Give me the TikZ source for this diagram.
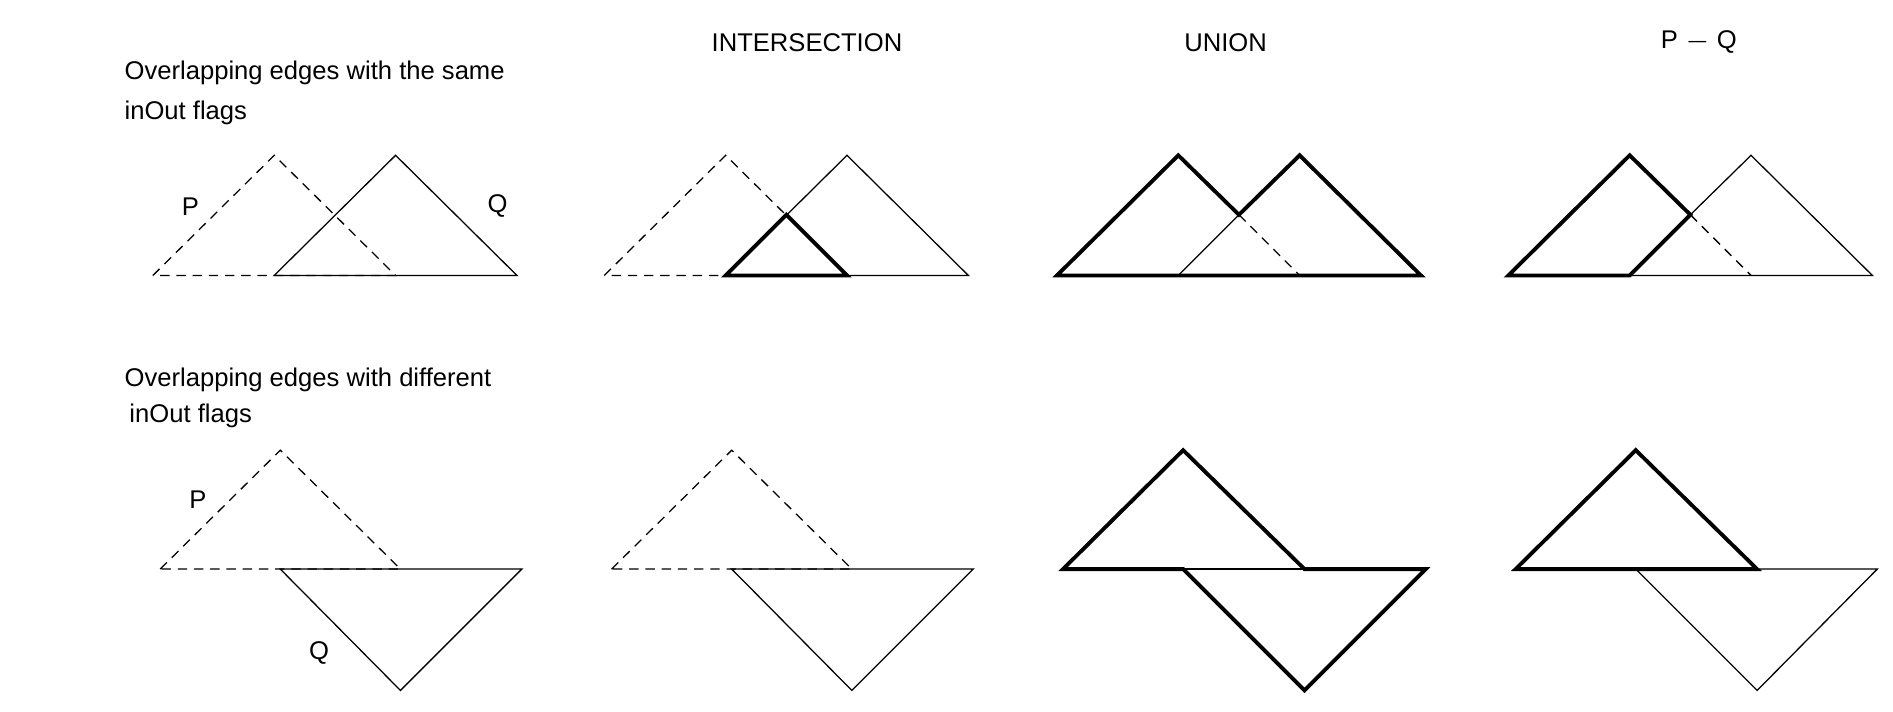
\documentclass[tikz,border=0pt]{standalone}
\usepackage{fontspec}
\setmainfont{Liberation Sans}
\begin{document}
\begin{tikzpicture}[x=0.01cm,y=-0.01cm,
    thinline/.style={line width=0.3pt},
    dashline/.style={line width=0.3pt,dash pattern=on 2.2pt off 1.6pt},
    boldline/.style={line width=0.9pt,line join=miter},
    txt/.style={font=\fontsize{6}{7}\selectfont,inner sep=0pt}]

    % Canvas
    \useasboundingbox (0,0) rectangle (1560,586);

    % Headings
    \node[txt] (hint) at (665,35) {INTERSECTION};
    \node[txt] (huni) at (1010,35) {UNION};
    \node[txt] (hdif) at (1400,35) {P $-$ Q};
    \node[txt,anchor=west] (tsame) at (102,60) {Overlapping edges with the same};
    \node[txt,anchor=west] (tsameb) at (102,93) {inOut flags};
    \node[txt,anchor=west] (tdiff) at (102,313) {Overlapping edges with different};
    \node[txt,anchor=west] (tdiffb) at (106,343) {inOut flags};

    % Top row: same inOut flags
    \node[txt] (lp1) at (157,170) {P};
    \node[txt] (lq1) at (410,170) {Q};
    \foreach \dx in {0,372} {
      \draw[dashline] (126+\dx,227) -- (226+\dx,128) -- (326+\dx,227) -- cycle;
      \draw[thinline] (226+\dx,227) -- (326+\dx,128) -- (426+\dx,227) -- cycle;
    }
    % intersection
    \draw[boldline] (598,227) -- (648,177) -- (698,227) -- cycle;
    % union
    \draw[thinline] (971,227) -- (1021,177);
    \draw[dashline] (1021,177) -- (1071,227);
    \draw[boldline] (871,227) -- (971,128) -- (1021,177) -- (1071,128) -- (1171,227) -- cycle;
    % difference
    \draw[thinline] (1393,177) -- (1443,128) -- (1543,227) -- (1343,227);
    \draw[dashline] (1393,177) -- (1443,227);
    \draw[boldline] (1243,227) -- (1343,128) -- (1393,177) -- (1343,227) -- cycle;

    % Bottom row: different inOut flags
    \node[txt] (lp2) at (163,412) {P};
    \node[txt] (lq2) at (263,538) {Q};
    \foreach \dx in {0,372} {
      \draw[dashline] (132+\dx,469) -- (231+\dx,371) -- (330+\dx,469) -- cycle;
      \draw[thinline] (231+\dx,469) -- (330+\dx,569) -- (430+\dx,469) -- cycle;
    }
    % union
    \draw[thinline] (975,469) -- (1075,469);
    \draw[boldline] (876,469) -- (975,371) -- (1075,469) -- (1175,469)
      -- (1075,569) -- (975,469) -- cycle;
    % difference
    \draw[thinline] (1348,469) -- (1448,569) -- (1547,469) -- (1448,469);
    \draw[boldline] (1249,469) -- (1348,371) -- (1448,469) -- cycle;

\end{tikzpicture}
\end{document}
